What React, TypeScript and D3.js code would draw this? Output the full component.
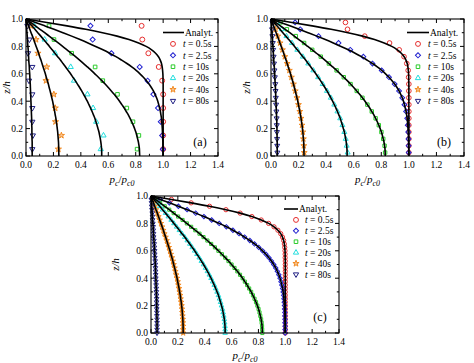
import React from "react";
import * as d3 from "d3";

// z/h positions of the analytical curves: 0, 0.025, ..., 1.0
const zGrid = d3.range(41).map((i) => +(i * 0.025).toFixed(3));

const times = ["0.5", "2.5", "10", "20", "40", "80"];

// analytical p_c/p_c0 along zGrid (bottom -> top)
const an05 = [1, 1, 1, 1, 1, 1, 1, 1, 1, 1, 1, 1, 1, 1, 1, 1, 1, 1, 1, 1, 1,
    1.0, 0.999, 0.999, 0.998, 0.996, 0.993, 0.988, 0.979, 0.966, 0.945, 0.916, 0.876, 0.821, 0.751, 0.664, 0.558, 0.436, 0.299, 0.152, 0];
const an25 = [0.999, 0.999, 0.999, 0.998, 0.998, 0.997, 0.997, 0.995, 0.994, 0.992, 0.99, 0.988, 0.984, 0.98, 0.974, 0.968, 0.961, 0.952, 0.941, 0.929, 0.914,
    0.897, 0.878, 0.856, 0.831, 0.803, 0.771, 0.736, 0.697, 0.656, 0.61, 0.561, 0.508, 0.452, 0.394, 0.333, 0.269, 0.204, 0.137, 0.069, 0];
const an10 = [0.829, 0.828, 0.827, 0.824, 0.82, 0.814, 0.808, 0.801, 0.792, 0.782, 0.771, 0.759, 0.746, 0.731, 0.716, 0.699, 0.682, 0.663, 0.643, 0.622, 0.6,
    0.577, 0.553, 0.528, 0.502, 0.476, 0.448, 0.42, 0.391, 0.361, 0.33, 0.299, 0.267, 0.235, 0.202, 0.169, 0.136, 0.102, 0.068, 0.034, 0];
const an20 = [0.552, 0.552, 0.551, 0.549, 0.546, 0.542, 0.537, 0.532, 0.525, 0.518, 0.51, 0.502, 0.492, 0.482, 0.471, 0.459, 0.447, 0.434, 0.42, 0.406, 0.391,
    0.375, 0.359, 0.342, 0.325, 0.307, 0.289, 0.27, 0.251, 0.231, 0.211, 0.191, 0.171, 0.15, 0.129, 0.108, 0.086, 0.065, 0.043, 0.022, 0];
const an40 = [0.24, 0.239, 0.239, 0.238, 0.237, 0.235, 0.233, 0.231, 0.228, 0.225, 0.221, 0.218, 0.213, 0.209, 0.204, 0.199, 0.194, 0.188, 0.182, 0.176, 0.169,
    0.163, 0.156, 0.148, 0.141, 0.133, 0.125, 0.117, 0.109, 0.1, 0.092, 0.083, 0.074, 0.065, 0.056, 0.047, 0.037, 0.028, 0.019, 0.009, 0];
const an80 = [0.045, 0.045, 0.045, 0.045, 0.045, 0.044, 0.044, 0.043, 0.043, 0.042, 0.042, 0.041, 0.04, 0.039, 0.038, 0.037, 0.036, 0.035, 0.034, 0.033, 0.032,
    0.031, 0.029, 0.028, 0.027, 0.025, 0.024, 0.022, 0.02, 0.019, 0.017, 0.016, 0.014, 0.012, 0.011, 0.009, 0.007, 0.005, 0.004, 0.002, 0];
const analytic = [an05, an25, an10, an20, an40, an80];

// (a) coarse mesh, 10 cells
const zA = [0.05, 0.15, 0.25, 0.35, 0.45, 0.55, 0.65, 0.75, 0.85, 0.95];
const numA05 = [1.0, 1.0, 1.0, 1.0, 1.0, 0.993, 0.968, 0.892, 0.848, 0.843];
const numA25 = [0.998, 0.993, 0.983, 0.963, 0.929, 0.887, 0.829, 0.623, 0.486, 0.47];
const numA10 = [0.81, 0.823, 0.78, 0.735, 0.667, 0.56, 0.504, 0.333, 0.204, 0.168];
const numA20 = [0.545, 0.565, 0.512, 0.489, 0.448, 0.35, 0.326, 0.212, 0.136, 0.06];
const numA40 = [0.236, 0.258, 0.215, 0.213, 0.203, 0.146, 0.151, 0.087, 0.073, 0.035];
const numA80 = [0.046, 0.05, 0.046, 0.046, 0.046, 0.022, 0.046, 0.015, 0.025, 0.01];

// (b) 20 cells
const zB = [0.025, 0.075, 0.125, 0.175, 0.225, 0.275, 0.325, 0.375, 0.425, 0.475,
    0.525, 0.575, 0.625, 0.675, 0.725, 0.775, 0.825, 0.875, 0.925, 0.975];
const numB05 = [1, 1, 1, 1, 1, 1, 1, 1, 1, 1, 1, 0.998, 0.995, 0.985, 0.965, 0.93, 0.86, 0.68, 0.555, 0.54];
const numB25 = [0.999, 0.998, 0.997, 0.995, 0.992, 0.988, 0.98, 0.968, 0.952, 0.929, 0.897, 0.856, 0.803, 0.736, 0.67, 0.575, 0.49, 0.345, 0.212, 0.175];
const numB10 = [0.828, 0.824, 0.814, 0.801, 0.782, 0.759, 0.731, 0.699, 0.663, 0.622, 0.577, 0.528, 0.476, 0.42, 0.361, 0.299, 0.24, 0.18, 0.115, 0.07];
const numB20 = [0.556, 0.549, 0.542, 0.532, 0.518, 0.502, 0.482, 0.459, 0.434, 0.406, 0.375, 0.342, 0.307, 0.27, 0.231, 0.191, 0.152, 0.112, 0.078, 0.045];
const numB40 = [0.241, 0.238, 0.235, 0.231, 0.225, 0.218, 0.209, 0.199, 0.188, 0.176, 0.163, 0.148, 0.133, 0.117, 0.1, 0.083, 0.066, 0.049, 0.033, 0.02];
const numB80 = [0.046, 0.045, 0.044, 0.043, 0.042, 0.041, 0.039, 0.037, 0.035, 0.033, 0.031, 0.028, 0.025, 0.022, 0.019, 0.016, 0.013, 0.01, 0.008, 0.01];

// (c) 40 cells: the markers sit on the analytical curves
const zC = zGrid.slice(0, 40);
const numC = analytic.map((a) => a.slice(0, 40));

const colors = ["#e62e2e", "#2020d0", "#2ccc2c", "#20dede", "#f28a22", "#1e1e82"];
const shapes = ["circle", "diamond", "square", "triangle", "star", "triangleDown"];

const FONT = "'Liberation Serif', 'Times New Roman', serif";

type Frame = { x0: number; x1: number; y0: number; y1: number };
type Legend = { line0: number; line1: number; mark: number; text: number; top: number; dy: number };
type PanelDef = {
    label: string;
    frame: Frame;
    z: number[];
    num: number[][];
    legend: Legend;
    labelAt: [number, number];
    yTitleX: number;
    xTitleY: number;
    size: number;
};

const panels: PanelDef[] = [
    {
        label: "(a)", frame: { x0: 26, x1: 218, y0: 19, y1: 156 }, z: zA,
        num: [numA05, numA25, numA10, numA20, numA40, numA80],
        legend: { line0: 163, line1: 184, mark: 173, text: 183, top: 32.5, dy: 11.4 },
        labelAt: [200, 146], yTitleX: 10, xTitleY: 183, size: 1,
    },
    {
        label: "(b)", frame: { x0: 271, x1: 464, y0: 19, y1: 156 }, z: zB,
        num: [numB05, numB25, numB10, numB20, numB40, numB80],
        legend: { line0: 407, line1: 429, mark: 418, text: 428, top: 32.5, dy: 11.4 },
        labelAt: [444, 146], yTitleX: 250, xTitleY: 183, size: 0.9,
    },
    {
        label: "(c)", frame: { x0: 151, x1: 339, y0: 196, y1: 333 }, z: zC,
        num: numC,
        legend: { line0: 284, line1: 298, mark: 296, text: 305, top: 209, dy: 10.9 },
        labelAt: [320, 321], yTitleX: 119, xTitleY: 359, size: 0.75,
    },
];

function symbolPath(shape: string, s: number): { d: string; rot: number } {
    switch (shape) {
        case "circle": return { d: d3.symbol(d3.symbolCircle, 19 * s)() ?? "", rot: 0 };
        case "diamond": return { d: d3.symbol(d3.symbolSquare, 13 * s)() ?? "", rot: 45 };
        case "square": return { d: d3.symbol(d3.symbolSquare, 13 * s)() ?? "", rot: 0 };
        case "triangle": return { d: d3.symbol(d3.symbolTriangle, 12 * s)() ?? "", rot: 0 };
        case "star": return { d: d3.symbol(d3.symbolStar, 12 * s)() ?? "", rot: 0 };
        default: return { d: d3.symbol(d3.symbolTriangle, 12 * s)() ?? "", rot: 180 };
    }
}

const Marker: React.FC<{ shape: string; x: number; y: number; color: string; s: number }> = ({ shape, x, y, color, s }) => {
    const { d, rot } = symbolPath(shape, s);
    return (
        <path d={d} transform={`translate(${x},${y}) rotate(${rot})`}
            fill={shape === "star" ? "#f8c896" : "none"} stroke={color} strokeWidth={1} />
    );
};

const PcLabel: React.FC<{ x: number; y: number }> = ({ x, y }) => (
    <text x={x} y={y} textAnchor="middle" fontFamily={FONT} fontSize={11}>
        <tspan fontStyle="italic">p</tspan>
        <tspan fontStyle="italic" fontSize={8} dy={2.5}>c</tspan>
        <tspan dy={-2.5}>/</tspan>
        <tspan fontStyle="italic">p</tspan>
        <tspan fontStyle="italic" fontSize={8} dy={2.5}>c0</tspan>
    </text>
);

const Panel: React.FC<{ p: PanelDef }> = ({ p }) => {
    const { x0, x1, y0, y1 } = p.frame;
    const x = d3.scaleLinear().domain([0, 1.4]).range([x0, x1]);
    const y = d3.scaleLinear().domain([0, 1]).range([y1, y0]);

    const line = d3.line<number>()
        .x((v) => x(v))
        .y((_, i) => y(zGrid[i]))
        .curve(d3.curveMonotoneY);

    const xMajor = x.ticks(7);
    const xMinor = x.ticks(14);
    const yMajor = y.ticks(5);
    const yMinor = y.ticks(10);
    const L = p.legend;

    return (
        <g>
            {/* ticks, all inward and mirrored */}
            {xMinor.map((t, i) => {
                const major = xMajor.some((m) => Math.abs(m - t) < 1e-9);
                const len = major ? 4 : 2.2;
                return (
                    <g key={"xt" + i} stroke="#000" strokeWidth={1}>
                        <line x1={x(t)} x2={x(t)} y1={y1} y2={y1 - len} />
                        <line x1={x(t)} x2={x(t)} y1={y0} y2={y0 + len} />
                    </g>
                );
            })}
            {yMinor.map((t, i) => {
                const major = yMajor.some((m) => Math.abs(m - t) < 1e-9);
                const len = major ? 4 : 2.2;
                return (
                    <g key={"yt" + i} stroke="#000" strokeWidth={1}>
                        <line x1={x0} x2={x0 + len} y1={y(t)} y2={y(t)} />
                        <line x1={x1} x2={x1 - len} y1={y(t)} y2={y(t)} />
                    </g>
                );
            })}
            {xMajor.map((t, i) => (
                <text key={"xl" + i} x={x(t)} y={y1 + 12} textAnchor="middle" fontFamily={FONT} fontSize={9.5}>
                    {t.toFixed(1)}
                </text>
            ))}
            {yMajor.map((t, i) => (
                <text key={"yl" + i} x={x0 - 3} y={y(t) + 3.3} textAnchor="end" fontFamily={FONT} fontSize={9.5}>
                    {t.toFixed(1)}
                </text>
            ))}

            {/* numerical markers */}
            {p.num.map((series, si) =>
                series.map((v, i) => (
                    <Marker key={`m${si}-${i}`} shape={shapes[si]} x={x(v)} y={y(p.z[i])} color={colors[si]} s={p.size} />
                ))
            )}

            {/* analytical curves */}
            {analytic.map((a, i) => (
                <path key={"c" + i} d={line(a) ?? ""} fill="none" stroke="#000" strokeWidth={1.6} />
            ))}

            <rect x={x0} y={y0} width={x1 - x0} height={y1 - y0} fill="none" stroke="#000" strokeWidth={1.1} />

            {/* legend */}
            <line x1={L.line0} x2={L.line1} y1={L.top} y2={L.top} stroke="#000" strokeWidth={1.6} />
            <text x={L.line1 + 1} y={L.top + 3.3} fontFamily={FONT} fontSize={9.5}>Analyt.</text>
            {times.map((t, i) => {
                const ly = L.top + L.dy * (i + 1);
                return (
                    <g key={"lg" + i}>
                        <Marker shape={shapes[i]} x={L.mark} y={ly} color={colors[i]} s={1} />
                        <text x={L.text} y={ly + 3.3} fontFamily={FONT} fontSize={9.5}>
                            <tspan fontStyle="italic">t</tspan> = {t}s
                        </text>
                    </g>
                );
            })}

            <text x={p.labelAt[0]} y={p.labelAt[1]} textAnchor="middle" fontFamily={FONT} fontSize={12}>{p.label}</text>

            <text transform={`translate(${p.yTitleX},${(y0 + y1) / 2}) rotate(-90)`} textAnchor="middle"
                fontFamily={FONT} fontSize={10.5} fontStyle="italic">z/h</text>
            <PcLabel x={(x0 + x1) / 2} y={p.xTitleY} />
        </g>
    );
};

export default function App() {
    return (
        <svg width={474} height={363} style={{ position: "absolute", left: 0, top: 0, background: "#fff" }}>
            {panels.map((p) => <Panel key={p.label} p={p} />)}
        </svg>
    );
}
